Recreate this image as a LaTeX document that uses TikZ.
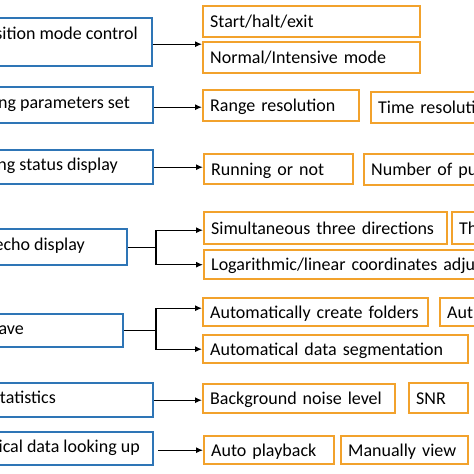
\documentclass[tikz,border=0pt]{standalone}
\usepackage{fontspec}
\setmainfont{Carlito}
\usetikzlibrary{arrows.meta}
\definecolor{bblue}{RGB}{46,117,182}
\definecolor{oorange}{RGB}{242,162,44}
\begin{document}
\begin{tikzpicture}[x=1pt,y=-1pt,
  every node/.style={font=\fontsize{18}{21}\selectfont},
  bbox/.style={draw=bblue,line width=2.4pt,inner sep=0pt,anchor=north east},
  btext/.style={inner sep=0pt,anchor=base east},
  obox/.style={draw=oorange,line width=2.4pt,inner xsep=7pt,inner ysep=0pt,
    text height=11.6pt,text depth=0pt,align=left,anchor=north west},
  conn/.style={line width=1.2pt,-{Latex[length=7pt,width=6pt]}},
  plain/.style={line width=1.2pt}]
\useasboundingbox (0,0) rectangle (474,474);
\clip (0,0) rectangle (474,474);
\fill[white] (0,0) rectangle (474,474);
% blue boxes
\node[bbox,minimum width=173pt,minimum height=48pt] (b1) at (153,17) {};
\node[bbox,minimum width=174pt,minimum height=36pt] (b2) at (154,86) {};
\node[bbox,minimum width=174pt,minimum height=34pt] (b3) at (154,149) {};
\node[bbox,minimum width=148pt,minimum height=36pt] (b4) at (128,228) {};
\node[bbox,minimum width=144pt,minimum height=33pt] (b5) at (124,313) {};
\node[bbox,minimum width=174pt,minimum height=34pt] (b6) at (154,382) {};
\node[bbox,minimum width=174pt,minimum height=33pt] (b7) at (154,431) {};
\node[btext] (t1) at (138,39) {sition mode control};
\node[btext] (t2) at (130,108) {ng parameters set};
\node[btext] (t3) at (118,170) {ng status display};
\node[btext] (t4) at (85,250) {echo display};
\node[btext] (t5) at (24,334) {ave};
\node[btext] (t6) at (56,403) {tatistics};
\node[btext] (t7) at (140,452) {ical data looking up};
% orange boxes
\node[obox,text width=203pt,minimum height=31pt] (o1) at (202,5) {Start/halt/exit};
\node[obox,text width=203pt,minimum height=31pt] (o2) at (202,41) {Normal/Intensive mode};
\node[obox,text width=142pt,minimum height=31pt] (o3a) at (202,89) {Range resolution};
\node[obox,text width=220pt,minimum height=31pt] (o3b) at (370,91) {Time resolution};
\node[obox,text width=135pt,minimum height=30pt] (o4a) at (203,153) {Running or not};
\node[obox,text width=220pt,minimum height=31pt] (o4b) at (363,153) {Number of pulses};
\node[obox,text width=229pt,minimum height=32pt] (o5a) at (203,211) {Simultaneous three directions};
\node[obox,text width=120pt,minimum height=32pt] (o5b) at (451,211) {Th};
\node[obox,text width=420pt,minimum height=29pt] (o5c) at (203,249) {Logarithmic/linear coordinates adjustment};
\node[obox,text width=211pt,minimum height=28pt] (o6a) at (202,297) {Automatically create folders};
\node[obox,text width=120pt,minimum height=28pt] (o6b) at (439,297) {Aut};
\node[obox,text width=251pt,minimum height=28pt] (o6c) at (202,334) {Automatical data segmentation};
\node[obox,text width=178pt,minimum height=29pt] (o7a) at (202,383) {Background noise level};
\node[obox,text width=45pt,minimum height=30pt] (o7b) at (408,382) {SNR};
\node[obox,text width=116pt,minimum height=28pt] (o8a) at (203,435) {Auto playback};
\node[obox,text width=113pt,minimum height=28pt] (o8b) at (340,435) {Manually view};
% connectors
\draw[conn] ([yshift=-2pt]b1.east) -- ([yshift=-2pt]b1.east -| o1.west);
\draw[conn] ([yshift=-2pt]b2.east) -- ([yshift=-2pt]b2.east -| o3a.west);
\draw[conn] (b3.east) -- (b3.east -| o4a.west);
\draw[plain] (b4.east) -- ++(28,0) coordinate (f4);
\draw[conn] (f4) |- ([yshift=-2pt]o5a.west);
\draw[conn] (f4) |- (o5c.west);
\draw[plain] (b5.east) -- (f4 |- b5.east) coordinate (f5);
\draw[conn] (f5) |- ([yshift=4pt]o6a.west);
\draw[conn] (f5) |- (o6c.west);
\draw[conn] (b6.east) -- (b6.east -| o7a.west);
\draw[conn] ([xshift=4pt,yshift=-1.5pt]b7.east) -- ([yshift=-1.5pt]b7.east -| o8a.west);
\end{tikzpicture}
\end{document}
